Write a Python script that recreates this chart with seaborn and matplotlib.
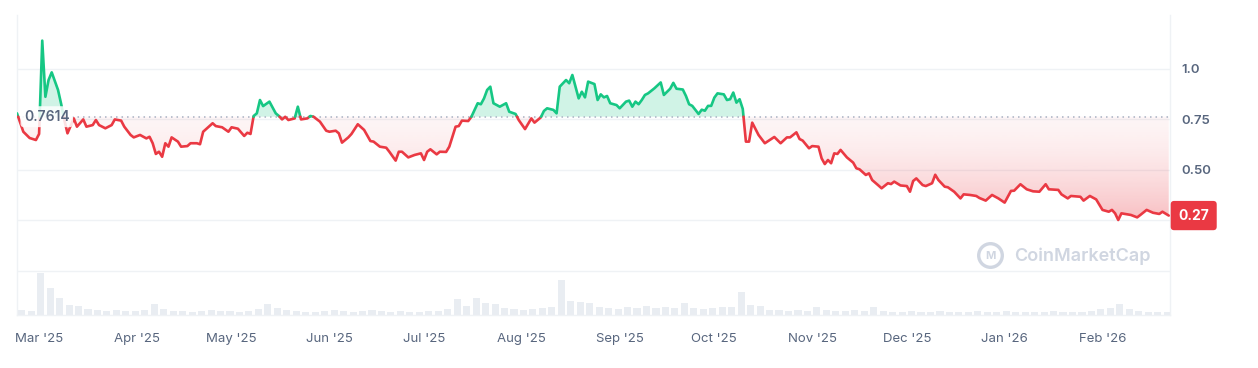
import numpy as np
import pandas as pd
import matplotlib
matplotlib.use("Agg")
import matplotlib.pyplot as plt
import matplotlib.dates as mdates
from matplotlib.path import Path
from matplotlib.patches import PathPatch
from matplotlib.lines import Line2D
import seaborn as sns

# ---------------- data ----------------
start_date = "2025-02-22"
baseline_price = 0.7614
baseline_label = "0.7614"
last_price_label = "0.27"

price_days = [0, 2, 4, 6, 7, 8, 9, 10, 11, 13, 14, 15, 16, 18, 19, 21, 22, 24, 25, 26,
              28, 30, 31, 33, 34, 36, 37, 39, 41, 42, 43, 44, 45, 46, 47, 48, 49, 51, 52, 54,
              55, 57, 58, 59, 62, 63, 65, 67, 68, 70, 72, 73, 74, 75, 76, 77, 78, 80, 82, 83,
              84, 85, 86, 88, 89, 90, 92, 93, 94, 96, 98, 99, 101, 102, 103, 105, 106, 108, 110, 112,
              113, 115, 117, 118, 120, 121, 122, 124, 126, 128, 129, 130, 131, 133, 134, 136, 137, 139, 140, 141,
              143, 144, 146, 147, 148, 149, 150, 151, 153, 155, 156, 158, 159, 161, 163, 164, 166, 167, 168, 170,
              171, 172, 174, 175, 176, 178, 179, 180, 181, 183, 184, 185, 186, 187, 188, 190, 191, 193, 194, 195,
              196, 197, 198, 199, 200, 202, 204, 205, 207, 208, 209, 211, 212, 213, 214, 216, 217, 218, 219, 220,
              221, 222, 224, 225, 226, 227, 228, 229, 230, 231, 232, 233, 235, 237, 240, 242, 244, 245, 247, 248,
              249, 251, 252, 254, 255, 256, 257, 258, 259, 260, 261, 263, 265, 266, 267, 269, 270, 271, 273, 274,
              276, 277, 278, 280, 282, 283, 284, 285, 287, 288, 290, 291, 292, 294, 295, 297, 299, 300, 302, 304,
              305, 307, 309, 311, 313, 315, 316, 318, 320, 322, 324, 326, 327, 330, 331, 333, 334, 337, 338, 340,
              342, 344, 346, 347, 348, 349, 350, 353, 355, 356, 358, 360, 362, 363, 365]
prices = [0.778, 0.687, 0.656, 0.646, 0.676, 1.138, 0.860, 0.943, 0.981, 0.894, 0.824, 0.745, 0.679, 0.753, 0.712, 0.748, 0.712, 0.720, 0.745, 0.720,
          0.704, 0.720, 0.748, 0.742, 0.712, 0.671, 0.659, 0.671, 0.654, 0.662, 0.630, 0.577, 0.588, 0.563, 0.630, 0.613, 0.659, 0.638, 0.613, 0.616,
          0.630, 0.630, 0.625, 0.687, 0.729, 0.715, 0.709, 0.687, 0.709, 0.702, 0.666, 0.682, 0.676, 0.765, 0.778, 0.844, 0.814, 0.836, 0.778, 0.765,
          0.748, 0.761, 0.745, 0.753, 0.811, 0.748, 0.753, 0.765, 0.761, 0.737, 0.692, 0.687, 0.692, 0.679, 0.633, 0.659, 0.676, 0.724, 0.696, 0.641,
          0.638, 0.613, 0.608, 0.588, 0.544, 0.588, 0.588, 0.560, 0.572, 0.580, 0.547, 0.588, 0.600, 0.575, 0.588, 0.587, 0.613, 0.712, 0.715, 0.742,
          0.740, 0.761, 0.828, 0.823, 0.852, 0.894, 0.910, 0.828, 0.811, 0.828, 0.786, 0.775, 0.745, 0.700, 0.753, 0.732, 0.758, 0.790, 0.803, 0.795,
          0.778, 0.910, 0.943, 0.927, 0.968, 0.852, 0.885, 0.857, 0.935, 0.923, 0.844, 0.872, 0.857, 0.864, 0.828, 0.819, 0.803, 0.836, 0.841, 0.811,
          0.836, 0.823, 0.844, 0.869, 0.877, 0.902, 0.931, 0.869, 0.900, 0.929, 0.900, 0.896, 0.864, 0.823, 0.815, 0.775, 0.796, 0.791, 0.815, 0.815,
          0.856, 0.877, 0.872, 0.844, 0.848, 0.881, 0.831, 0.848, 0.800, 0.638, 0.638, 0.732, 0.671, 0.630, 0.661, 0.630, 0.659, 0.659, 0.684, 0.651,
          0.643, 0.605, 0.616, 0.613, 0.555, 0.527, 0.547, 0.531, 0.580, 0.577, 0.597, 0.560, 0.534, 0.506, 0.501, 0.473, 0.481, 0.448, 0.421, 0.407,
          0.432, 0.428, 0.440, 0.421, 0.418, 0.390, 0.443, 0.456, 0.423, 0.418, 0.432, 0.474, 0.448, 0.415, 0.412, 0.390, 0.357, 0.377, 0.374, 0.369,
          0.359, 0.346, 0.374, 0.357, 0.336, 0.394, 0.395, 0.427, 0.402, 0.392, 0.390, 0.427, 0.402, 0.399, 0.377, 0.357, 0.369, 0.365, 0.346, 0.369,
          0.352, 0.300, 0.291, 0.300, 0.283, 0.250, 0.283, 0.275, 0.263, 0.275, 0.300, 0.286, 0.280, 0.291, 0.272]

volume_step_days = 3
volume = [5, 4, 42, 27, 17, 10, 9, 6, 5, 4,
          5, 4, 4, 5, 11, 6, 4, 4, 3, 4,
          5, 4, 4, 3, 4, 6, 11, 7, 5, 4,
          3, 3, 4, 5, 4, 3, 4, 5, 4, 3,
          4, 3, 3, 4, 4, 6, 16, 9, 17, 12,
          11, 7, 6, 5, 6, 7, 8, 35, 14, 13,
          12, 8, 7, 6, 8, 7, 9, 7, 8, 7,
          12, 7, 6, 7, 8, 8, 23, 10, 9, 5,
          5, 4, 5, 4, 8, 5, 4, 4, 5, 4,
          8, 4, 3, 3, 4, 3, 3, 4, 3, 3,
          3, 4, 3, 3, 4, 3, 3, 3, 3, 4,
          3, 3, 3, 4, 6, 7, 11, 6, 4, 3,
          3, 3]

month_ticks = ["2025-03-01", "2025-04-01", "2025-05-01", "2025-06-01", "2025-07-01", "2025-08-01",
               "2025-09-01", "2025-10-01", "2025-11-01", "2025-12-01", "2026-01-01", "2026-02-01"]
y_ticks = [0.5, 0.75, 1.0]
y_tick_labels = ["0.50", "0.75", "1.0"]
grid_levels = [0.0, 0.25, 0.5, 0.75, 1.0]

# ---------------- style ----------------
GREEN = "#16c784"
RED = "#ea3943"
TXT = "#58667e"
GRID = "#eff2f5"
VOL = "#e9edf2"

sns.set_theme(style="white")
plt.rcParams["font.family"] = ["Inter", "DejaVu Sans"]

W, H = 1258, 368
fig = plt.figure(figsize=(W / 100, H / 100), dpi=100)
fig.patch.set_facecolor("white")
ax = fig.add_axes([17 / W, 53 / H, 1153 / W, 300 / H])
ax2 = ax.twinx()
ax.set_zorder(2)
ax.patch.set_visible(False)
ax2.set_zorder(1)

t0 = pd.Timestamp(start_date)
t0n = mdates.date2num(t0)
base = baseline_price

# insert crossing points with the baseline
x = np.array(price_days, dtype=float)
y = np.array(prices, dtype=float)
xs, ys = [x[0]], [y[0]]
for i in range(1, len(x)):
    if (y[i - 1] - base) * (y[i] - base) < 0:
        t = (base - y[i - 1]) / (y[i] - y[i - 1])
        xs.append(x[i - 1] + t * (x[i] - x[i - 1]))
        ys.append(base)
    xs.append(x[i])
    ys.append(y[i])
xs = np.array(xs)
ys = np.array(ys)
xn = t0n + xs  # matplotlib date numbers

# volume bars (behind)
vol_x = t0n + np.arange(len(volume)) * volume_step_days + volume_step_days / 2
ax2.bar(vol_x, volume, width=volume_step_days * 0.75, color=VOL, edgecolor="none")
ax2.set_ylim(0, max(volume) * 300 / 42)
ax2.set_yticks([])
for s in ax2.spines.values():
    s.set_visible(False)

# grid lines
for g in grid_levels:
    ax.axhline(g, color=GRID, lw=1, zorder=0)

# fills
above = ys >= base - 1e-12
below = ys <= base + 1e-12
ax.fill_between(xn, ys, base, where=above, color=GREEN, alpha=0.2, lw=0, zorder=1)
red_poly = ax.fill_between(xn, ys, base, where=below, facecolor="none", edgecolor="none", zorder=1)
paths = red_poly.get_paths()
clip = PathPatch(Path.make_compound_path(*paths), transform=ax.transData,
                 facecolor="none", edgecolor="none")
ax.add_patch(clip)
n = 256
tt = np.linspace(0, 1, n)
grad = np.zeros((n, 1, 4))
rgb = matplotlib.colors.to_rgb(RED)
grad[:, 0, 0], grad[:, 0, 1], grad[:, 0, 2] = rgb
grad[:, 0, 3] = 0.05 + 0.28 * tt ** 1.5
ymin_g = ys.min() - 0.01
im = ax.imshow(grad, extent=[xn.min(), xn.max(), ymin_g, base], aspect="auto",
               origin="upper", zorder=1, interpolation="bilinear")
im.set_clip_path(clip)

# baseline
ax.axhline(base, color="#a7b1c2", lw=1.1, linestyle=(0, (1, 2.6)), zorder=2)

# line segments coloured by side of baseline
dates_all = pd.to_datetime(t0) + pd.to_timedelta(xs, unit="D")
seg_start = 0
for i in range(1, len(ys) + 1):
    end_seg = i == len(ys)
    if end_seg or (abs(ys[i] - base) <= 1e-12 and i > seg_start):
        stop = i if end_seg else i + 1
        seg = slice(seg_start, stop)
        seg_vals = ys[seg]
        side = np.mean(seg_vals) >= base
        sns.lineplot(x=dates_all[seg], y=seg_vals, ax=ax, color=GREEN if side else RED,
                     linewidth=1.9, sort=False, estimator=None, zorder=3, legend=False)
        seg_start = i

# axes styling
ax.set_xlim(t0n, t0n + 365.4)
ax.set_ylim(-0.2203, 1.2649)
ax.yaxis.tick_right()
ax.set_yticks(y_ticks)
ax.set_yticklabels(y_tick_labels)
ax.set_xticks(mdates.date2num(pd.to_datetime(month_ticks)))
ax.set_xticklabels([pd.Timestamp(m).strftime("%b '%y") for m in month_ticks])
ax.tick_params(axis="y", length=0, pad=8, labelsize=9.5, labelcolor=TXT)
ax.tick_params(axis="x", length=0, pad=13, labelsize=9.5, labelcolor=TXT)
for lab in ax.get_yticklabels():
    lab.set_fontweight("semibold")
ax.set_xlabel("")
ax.set_ylabel("")
ax.grid(False)
for side in ["left", "right", "bottom"]:
    ax.spines[side].set_color(GRID)
    ax.spines[side].set_linewidth(1)
ax.spines["top"].set_visible(False)

# baseline label
ax.annotate(baseline_label, xy=(0, base), xycoords=("axes fraction", "data"),
            xytext=(5, 0), textcoords="offset points", ha="left", va="center",
            fontsize=10, fontweight="semibold", color=TXT, zorder=5,
            bbox=dict(boxstyle="round,pad=0.25", fc="white", ec="none", alpha=0.85))

# last price label
ax.annotate(last_price_label, xy=(1, prices[-1]), xycoords=("axes fraction", "data"),
            xytext=(6, 0), textcoords="offset points", ha="left", va="center",
            fontsize=10, fontweight="bold", color="white", zorder=6, annotation_clip=False,
            bbox=dict(boxstyle="round,pad=0.55,rounding_size=0.25", fc=RED, ec="none"))

# watermark
WM = "#d0d6e1"
fig.add_artist(Line2D([990 / W], [1 - 255 / H], marker="o", markersize=17, mfc="none",
                      mec=WM, mew=2.4, transform=fig.transFigure))
fig.text(990 / W, 1 - 256 / H, "M", fontsize=8, fontweight="bold", color=WM,
         ha="center", va="center")
fig.text(1014 / W, 1 - 256 / H, "CoinMarketCap", fontsize=13, fontweight="semibold",
         color=WM, ha="left", va="center")

fig.savefig("out.png", dpi=100, facecolor="white")
